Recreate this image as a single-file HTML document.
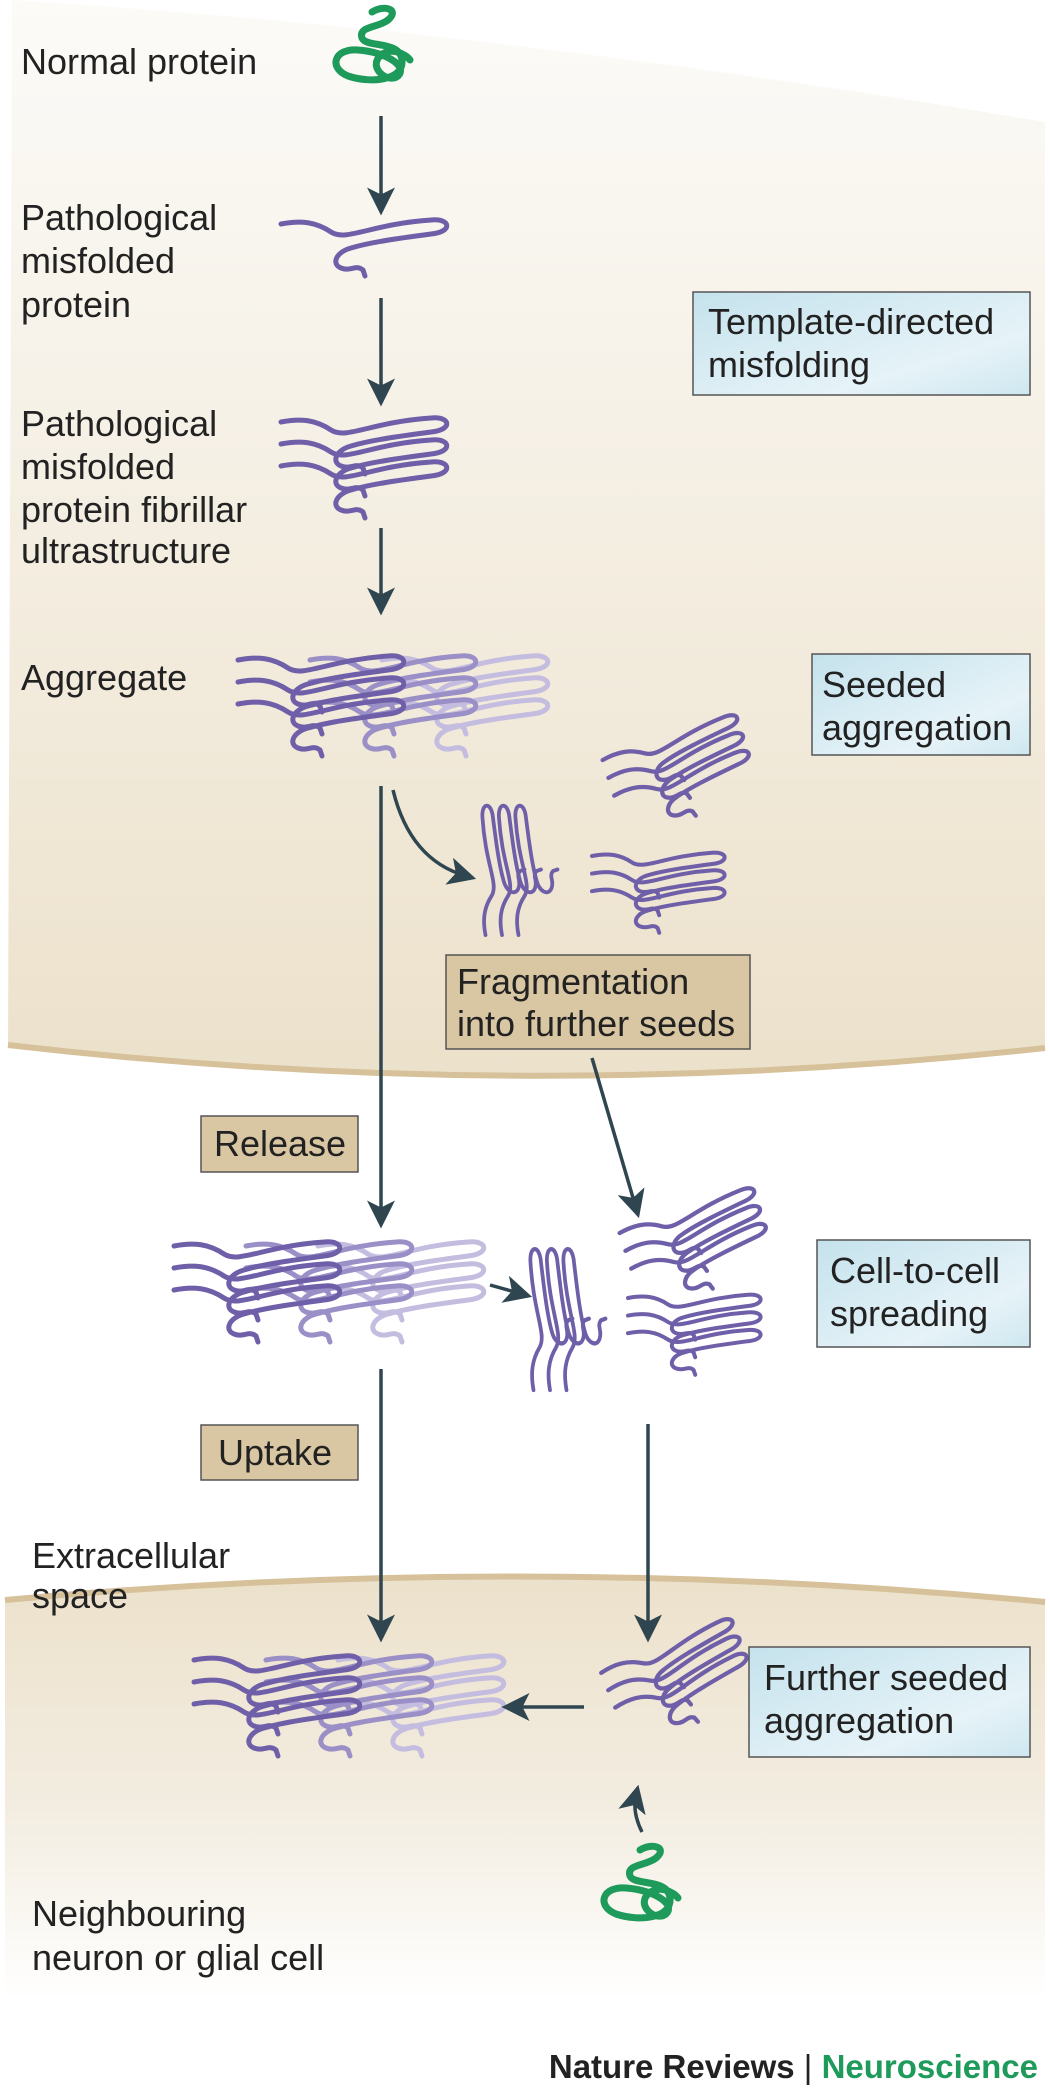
<!DOCTYPE html>
<html><head><meta charset="utf-8"><style>
body{margin:0;background:#fff}
svg{display:block}
text{font-family:"Liberation Sans",sans-serif;fill:#222;font-size:36px}
.box{stroke:#555;stroke-width:1.5}
</style></head><body>
<svg width="1050" height="2092" viewBox="0 0 1050 2092" xmlns="http://www.w3.org/2000/svg">
<defs>
<linearGradient id="g1" x1="0" y1="0" x2="0" y2="1"><stop offset="0" stop-color="#fcfbf8"/><stop offset="1" stop-color="#ece1cb"/></linearGradient>
<linearGradient id="g2" x1="0" y1="0" x2="0" y2="1"><stop offset="0" stop-color="#ece1cb"/><stop offset="0.55" stop-color="#f3ede1"/><stop offset="1" stop-color="#ffffff"/></linearGradient>
<linearGradient id="bl" x1="0" y1="0" x2="1" y2="1"><stop offset="0" stop-color="#c5e2ec"/><stop offset="0.7" stop-color="#e6f3f8"/><stop offset="1" stop-color="#cfe7f0"/></linearGradient>
<marker id="ah" markerWidth="8" markerHeight="8" refX="5" refY="4" orient="auto" markerUnits="strokeWidth"><path d="M0,0 L8,4 L0,8 L2,4 Z" fill="#2f4650"/></marker>
<path id="strand" d="M0,10 C20,6 35,8 50,18 C65,28 90,10 150,6 C170,4 172,18 150,20 C120,24 90,28 70,34 C55,38 50,50 60,54 C70,58 75,50 82,56 L84,62" fill="none" stroke-width="5" stroke-linecap="round"/>
<g id="fib"><use href="#strand"/><use href="#strand" y="22"/><use href="#strand" y="44"/></g>
<g id="agg"><use href="#fib" x="144" stroke="#c4bde0"/><use href="#fib" x="72" stroke="#9a8fc6"/><use href="#fib" x="0" stroke="#6f5fa8"/></g>
<path id="green" d="M42,8 C55,0 70,6 58,16 C48,24 28,22 32,34 C36,44 70,36 72,56 C74,76 42,80 18,72 C-2,64 4,44 28,46 C56,48 78,62 68,72 C58,80 38,64 50,52 C60,42 76,50 80,56" fill="none" stroke="#1e9a5a" stroke-width="7" stroke-linecap="round"/>
</defs>
<path d="M12,0 Q500,30 1045,122 L1045,1048 Q525,1105 8,1045 Z" fill="url(#g1)"/>
<path d="M8,1045 Q525,1105 1045,1048" fill="none" stroke="#d6c19a" stroke-width="6"/>
<path d="M5,1600 Q525,1552 1045,1602 L1045,2000 L5,2000 Z" fill="url(#g2)"/>
<path d="M5,1600 Q525,1552 1045,1602" fill="none" stroke="#d6c19a" stroke-width="6"/>

<use href="#green" x="330" y="4"/>
<use href="#green" x="598" y="1842"/>

<g stroke="#6f5fa8"><use href="#strand" x="281" y="214"/></g>
<g stroke="#6f5fa8"><use href="#fib" x="281" y="412"/></g>
<use href="#agg" x="238" y="650"/>
<g stroke="#6f5fa8">
<use href="#fib" transform="translate(478,935) rotate(-90) scale(0.78,0.75)"/>
<use href="#fib" transform="translate(600,752) rotate(-18) scale(0.85)"/>
<use href="#fib" transform="translate(592,848) scale(0.8)"/>
</g>
<use href="#agg" x="174" y="1236"/>
<g stroke="#6f5fa8">
<use href="#fib" transform="translate(526,1390) rotate(-90) scale(0.85,0.75)"/>
<use href="#fib" transform="translate(617,1225) rotate(-18) scale(0.85)"/>
<use href="#fib" transform="translate(628,1290) scale(0.8)"/>
</g>
<use href="#agg" x="194" y="1650"/>
<g stroke="#6f5fa8"><use href="#fib" transform="translate(598,1665) rotate(-22) scale(0.85)"/></g>

<g stroke="#2f4650" stroke-width="3.5" fill="none" marker-end="url(#ah)">
<line x1="381" y1="116" x2="381" y2="205"/>
<line x1="381" y1="298" x2="381" y2="396"/>
<line x1="381" y1="528" x2="381" y2="605"/>
<line x1="381" y1="786" x2="381" y2="1218"/>
<path d="M393,790 Q410,860 466,876"/>
<line x1="592" y1="1058" x2="636" y2="1208"/>
<line x1="490" y1="1285" x2="522" y2="1294"/>
<line x1="381" y1="1369" x2="381" y2="1632"/>
<line x1="648" y1="1424" x2="648" y2="1632"/>
<line x1="584" y1="1707" x2="512" y2="1707"/>
<path d="M642,1832 Q632,1812 636,1795"/>
</g>

<rect class="box" x="693" y="292" width="337" height="103" fill="url(#bl)"/>
<text x="708" y="334">Template-directed</text><text x="708" y="377">misfolding</text>
<rect class="box" x="812" y="654" width="218" height="101" fill="url(#bl)"/>
<text x="822" y="697">Seeded</text><text x="822" y="740">aggregation</text>
<rect class="box" x="446" y="955" width="304" height="94" fill="#d9c6a2"/>
<text x="457" y="994">Fragmentation</text><text x="457" y="1036">into further seeds</text>
<rect class="box" x="201" y="1116" width="157" height="56" fill="#d9c6a2"/>
<text x="214" y="1156">Release</text>
<rect class="box" x="817" y="1240" width="213" height="107" fill="url(#bl)"/>
<text x="830" y="1283">Cell-to-cell</text><text x="830" y="1326">spreading</text>
<rect class="box" x="201" y="1425" width="157" height="55" fill="#d9c6a2"/>
<text x="218" y="1465">Uptake</text>
<rect class="box" x="749" y="1647" width="281" height="110" fill="url(#bl)"/>
<text x="764" y="1690">Further seeded</text><text x="764" y="1733">aggregation</text>

<text x="21" y="74">Normal protein</text>
<text x="21" y="230">Pathological</text><text x="21" y="273">misfolded</text><text x="21" y="317">protein</text>
<text x="21" y="436">Pathological</text><text x="21" y="479">misfolded</text><text x="21" y="522">protein fibrillar</text><text x="21" y="563">ultrastructure</text>
<text x="21" y="690">Aggregate</text>
<text x="32" y="1568">Extracellular</text><text x="32" y="1608">space</text>
<text x="32" y="1926">Neighbouring</text><text x="32" y="1970">neuron or glial cell</text>
<text x="1038" y="2078" text-anchor="end" style="font-weight:bold;font-size:33px"><tspan fill="#222">Nature Reviews</tspan><tspan fill="#222" font-weight="normal"> | </tspan><tspan fill="#1e9a5a">Neuroscience</tspan></text>
</svg>
</body></html>
